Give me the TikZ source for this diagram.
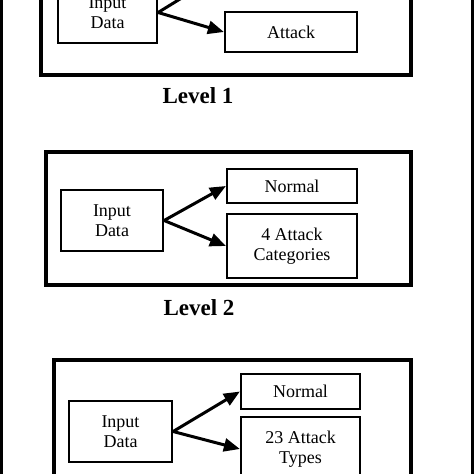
\documentclass[tikz,border=0pt]{standalone}
\usepackage{fontspec}
\setmainfont{Liberation Serif}
\usepackage{tikz}
\usetikzlibrary{positioning,arrows.meta}

\tikzset{
	levelbox/.style={draw=black,line width=3.8pt,minimum height=133pt,inner sep=0pt},
	databox/.style={draw=black,line width=2.2pt,align=center,inner sep=0pt,font=\fontsize{18}{20}\selectfont},
	levellabel/.style={font=\fontsize{23}{25}\selectfont\bfseries},
	flow/.style={line width=3pt,-{Triangle[length=16pt,width=13pt]}}
}

\begin{document}
\begin{tikzpicture}[x=1pt,y=-1pt]
		\useasboundingbox (0,0) rectangle (474,474);
		\clip (0,0) rectangle (474,474);
		
		% outer frame
		\node[draw=black,line width=3pt,minimum width=471pt,minimum height=560pt,inner sep=0pt] (outer) at (237,237) {};
		
		% level 1
		\node[levelbox,minimum width=370pt] (lvl1) at (226,8.5) {};
		\node[databox,minimum width=99pt,minimum height=61pt] (in1) at (107.5,12.5) {Input\\Data};
		\node[databox,minimum width=132pt,minimum height=40pt] (nrm1) at (291,-28) {Normal};
		\node[databox,minimum width=132pt,minimum height=40pt] (att1) at (291,32) {Attack};
		\node[levellabel] (lab1) at (198,96) {Level 1};
		
		\draw[flow] (in1.east)--(nrm1.west);
		\draw[flow] (in1.east)--(att1.west);
		
		% level 2
		\node[levelbox,minimum width=365pt] (lvl2) at (228.5,218.5) {};
		\node[databox,minimum width=102pt,minimum height=61pt] (in2) at (112,220.5) {Input\\Data};
		\node[databox,minimum width=130pt,minimum height=34pt] (nrm2) at (292,186) {Normal};
		\node[databox,minimum width=130pt,minimum height=64pt] (att2) at (292,246) {4 Attack\\Categories};
		\node[levellabel] (lab2) at (199,308) {Level 2};
		
		\draw[flow] (in2.east)--(nrm2.west);
		\draw[flow] (in2.east)--(att2.west);
		
		% level 3
		\node[levelbox,minimum width=357pt] (lvl3) at (232.5,426.5) {};
		\node[databox,minimum width=103pt,minimum height=61pt] (in3) at (120.5,431.5) {Input\\Data};
		\node[databox,minimum width=119pt,minimum height=35pt] (nrm3) at (300.5,391.5) {Normal};
		\node[databox,minimum width=119pt,minimum height=64pt] (att3) at (300.5,449) {23 Attack\\Types};
		
		\draw[flow] (in3.east)--(nrm3.west);
		\draw[flow] (in3.east)--(att3.west);
	\end{tikzpicture}
\end{document}
